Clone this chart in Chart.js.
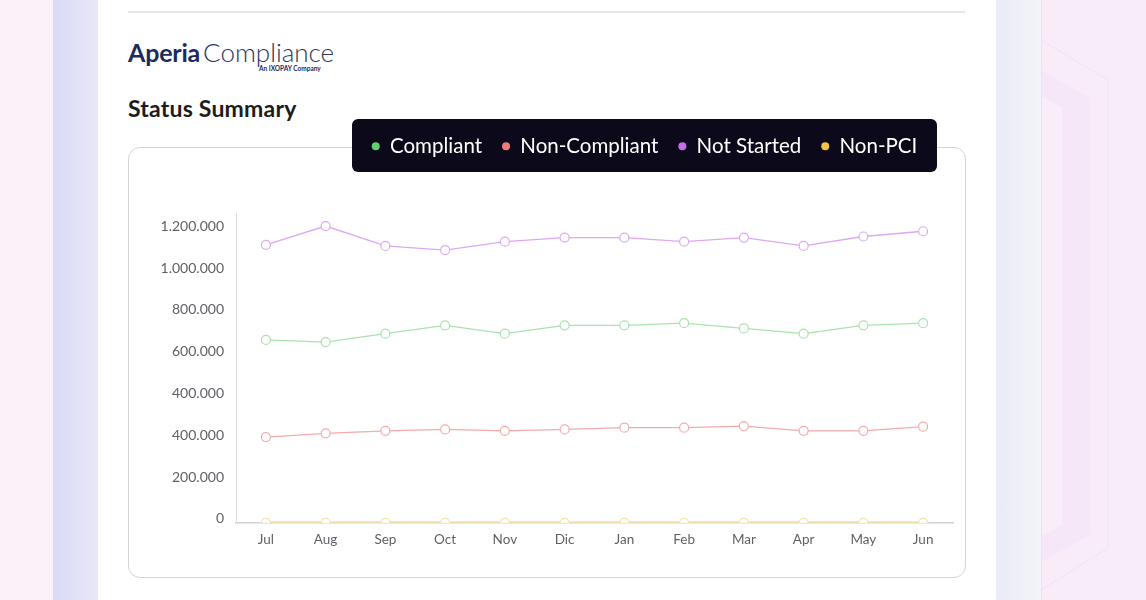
<!DOCTYPE html>
<html>
<head>
<meta charset="utf-8">
<script src="https://cdn.jsdelivr.net/npm/chart.js@4.4.1/dist/chart.umd.min.js"></script>
<style>
  html,body{margin:0;padding:0;}
  body{width:1146px;height:600px;overflow:hidden;position:relative;background:#fbf2f9;font-family:Lato,"Noto Sans",sans-serif;}
  .band-left{position:absolute;left:53px;top:0;width:45px;height:600px;background:linear-gradient(90deg,#d9daf6,#e8e8f8);}
  .band-right{position:absolute;left:996px;top:0;width:45px;height:600px;background:linear-gradient(90deg,#e9ebf6,#f3f4fa);border-right:1px solid #ece4f2;}
  .right-bg{position:absolute;left:1042px;top:0;width:104px;height:600px;background:#f9ecf9;}
  .card{position:absolute;left:98px;top:0;width:898px;height:600px;background:#fff;}
  .sep{position:absolute;left:128px;top:11px;width:837px;height:2px;background:#e6e6e8;}
  .logo{position:absolute;left:128px;top:36px;white-space:nowrap;color:#1e2a5c;}
  .logo .a{font-weight:700;font-size:25px;letter-spacing:-0.2px;}
  .logo .c{font-weight:300;font-size:26px;margin-left:3px;color:#2b3562;}
  .logo .s{position:absolute;left:131px;top:29px;font-size:6.5px;font-weight:700;color:#1e2a5c;}
  .title{position:absolute;left:128px;top:94px;font-size:23px;font-weight:700;color:#1c1c1c;letter-spacing:0.2px;}
  .chartcard{position:absolute;left:128px;top:147px;width:838px;height:431px;border:1px solid #d4d4d6;border-radius:12px;box-sizing:border-box;}
  #wrap{position:absolute;left:128px;top:119px;width:838px;height:459px;}
  svg.deco{position:absolute;left:1040px;top:0;}
</style>
</head>
<body>
<div class="right-bg"></div>
<svg class="deco" width="106" height="600">
  <polygon points="1,70 50,98 50,535 1,562" fill="#f3e4f5" opacity="0.55"/>
  <polygon points="1,95 22,108 22,525 1,537" fill="#f8eef9"/>
  <polyline points="1,40 68,80 68,548 1,590" fill="none" stroke="#f1e5f4" stroke-width="1.2"/>
</svg>
<div class="band-left"></div>
<div class="band-right"></div>
<div class="card"></div>
<div class="sep"></div>
<div class="logo"><span class="a">Aperia</span><span class="c">Compliance</span><span class="s">An IXOPAY Company</span></div>
<div class="title">Status Summary</div>
<div class="chartcard"></div>
<div id="wrap"><canvas id="c"></canvas></div>
<script>
const months = ['Jul','Aug','Sep','Oct','Nov','Dic','Jan','Feb','Mar','Apr','May','Jun'];
const compliant = [875000,865000,905000,945000,905000,945000,945000,955000,930000,905000,945000,955000];
const nonCompliant = [410000,428000,440000,447000,440000,447000,455000,455000,463000,440000,440000,460000];
const notStarted = [1330000,1420000,1325000,1305000,1345000,1365000,1365000,1345000,1365000,1325000,1370000,1395000];
const nonPCI = [0,0,0,0,0,0,0,0,0,0,0,0];
const yTickLabels = ['0','200.000','400.000','400.000','600.000','800.000','1.000.000','1.200.000'];
const yStep = 200000;
const yMax = 1480000;

const legendBox = {
  id: 'legendBox',
  afterLayout(chart, args, opts) {
    const l = chart.legend;
    const d = opts.slack;
    l.left = opts.left - d; l.right = opts.right + d; l.width = l.right - l.left;
    l.top = opts.top + opts.textShift; l.bottom = opts.bottom; l.height = l.bottom - l.top;
  },
  beforeDraw(chart, args, opts) {
    const ctx = chart.ctx;
    ctx.save();
    ctx.fillStyle = opts.color;
    ctx.beginPath();
    ctx.roundRect(opts.left, opts.top, opts.right - opts.left, opts.bottom - opts.top, opts.radius);
    ctx.fill();
    ctx.restore();
  }
};

function ds(label, data, line, dot, width) {
  return {
    label, data,
    borderColor: line, backgroundColor: dot,
    borderWidth: width,
    pointRadius: 4.5, pointHoverRadius: 4.5,
    pointBackgroundColor: '#ffffff', pointBorderColor: line, pointBorderWidth: 1.2,
    tension: 0
  };
}

new Chart(document.getElementById('c'), {
  type: 'line',
  data: {
    labels: months,
    datasets: [
      ds('Compliant', compliant, '#a9e2ac', '#62cf6f', 1.3),
      ds('Non-Compliant', nonCompliant, '#f4abab', '#f07c7c', 1.3),
      ds('Not Started', notStarted, '#dca8f2', '#c46de9', 1.3),
      ds('Non-PCI', nonPCI, '#f6e3a0', '#f5c445', 3)
    ]
  },
  options: {
    responsive: true,
    maintainAspectRatio: false,
    animation: false,
    layout: { padding: { top: 44, right: 13, bottom: 21, left: 0 } },
    plugins: {
      tooltip: { enabled: false },
      legendBox: { left: 224, right: 809, top: 0, bottom: 53, radius: 6, color: '#0c0a1a', textShift: -3, slack: 30 },
      legend: {
        display: true,
        position: 'top',
        align: 'center',
        labels: {
          color: '#ffffff',
          font: { family: 'Lato', size: 20.5 },
          usePointStyle: true,
          pointStyle: 'circle',
          boxWidth: 8, boxHeight: 5.7, pointStyleWidth: 8,
          padding: 20,
          generateLabels(chart) {
            const items = Chart.defaults.plugins.legend.labels.generateLabels(chart);
            items.forEach(i => {
              const d = chart.data.datasets[i.datasetIndex];
              i.fillStyle = d.backgroundColor; i.strokeStyle = d.backgroundColor; i.lineWidth = 0;
            });
            return items;
          }
        }
      }
    },
    scales: {
      x: {
        type: 'category',
        offset: true,
        grid: { display: false, drawTicks: false },
        border: { display: true, color: '#d2d2d4', width: 1.5 },
        ticks: { color: '#5f5f66', font: { family: 'Lato', size: 13.5 }, padding: 9, maxRotation: 0 }
      },
      y: {
        min: 0, max: yMax,
        grid: { display: false, drawTicks: false },
        border: { display: true, color: '#dcdcde', width: 1 },
        afterBuildTicks(scale) {
          scale.ticks = yTickLabels.map((_, i) => ({ value: i * yStep }));
        },
        ticks: {
          color: '#5f5f66', font: { family: 'Lato', size: 14 }, padding: 12, labelOffset: -4,
          callback: (v, i) => yTickLabels[i]
        },
        afterFit(scale) { scale.width = 108; }
      }
    }
  },
  plugins: [legendBox]
});
</script>
</body>
</html>
